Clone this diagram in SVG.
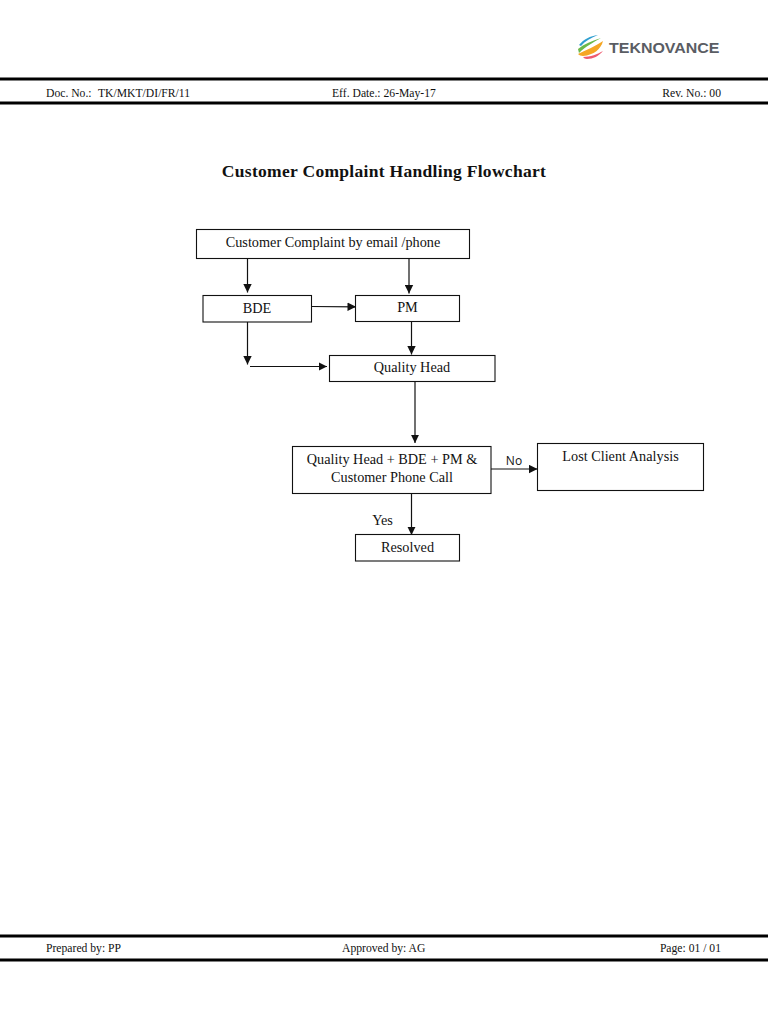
<svg xmlns="http://www.w3.org/2000/svg" width="768" height="1024" viewBox="0 0 768 1024">
<style>
text{font-family:"Liberation Serif","Times New Roman",serif;fill:#111}
.small{font-size:11.650px}
.label{font-size:14.250px;text-anchor:middle}
.box{fill:#fff;stroke:#111;stroke-width:1.1}
.rule{stroke:#000;stroke-width:3}
.conn{fill:none;stroke:#111;stroke-width:1.2;marker-end:url(#arrow)}
</style>
<defs>
<marker id="arrow" markerUnits="userSpaceOnUse" markerWidth="9" markerHeight="9" refX="8.5" refY="4.5" orient="auto">
<path d="M0 0.300L8.500 4.500L0 8.700Z" fill="#111"/>
</marker>
</defs>
<rect width="768" height="1024" fill="#fff"/>
<g id="logo">
<path d="M579 45C584 39 590 36 598 35C591 38 585 41 581 46Z" fill="#2f9fd0"/>
<path d="M578 49C584 44 592 41 601 38C594 42 586 46 579 53Z" fill="#6cb84a"/>
<path d="M578 54C586 50 596 46 603 41C601 49 594 55 583 56C581 56 579 55 578 54Z" fill="#f5a623"/>
<path d="M583 57C590 57 598 54 603 51C599 56 593 59 587 59C585 59 584 58 583 57Z" fill="#ee5a6f"/>
<text x="609" y="52.500" style="font-family:'Liberation Sans',Arial,sans-serif;font-size:15.500px;font-weight:700;fill:#5a5d64" textLength="110.500" lengthAdjust="spacingAndGlyphs">TEKNOVANCE</text>
</g>
<g id="header">
<line class="rule" x1="0" y1="79" x2="768" y2="79"/>
<line class="rule" x1="0" y1="103" x2="768" y2="103"/>
<text class="small" x="46" y="97">Doc. No.:<tspan x="98">TK/MKT/DI/FR/11</tspan></text>
<text class="small" x="332" y="97">Eff. Date.: 26-May-17</text>
<text class="small" x="721" y="97" text-anchor="end">Rev. No.: 00</text>
</g>
<text id="title" x="384" y="177" text-anchor="middle" style="font-size:17.500px;font-weight:700;letter-spacing:0.300px">Customer Complaint Handling Flowchart</text>
<g id="connectors">
<path class="conn" d="M247.500 259V292.500"/>
<path class="conn" d="M409 259V293.500"/>
<path class="conn" d="M312 306.500L356 306.800"/>
<path class="conn" d="M411.500 322V354.500"/>
<path class="conn" d="M247.500 322V364.500"/>
<path class="conn" d="M250 366.500H327"/>
<path class="conn" d="M415 382V443"/>
<path class="conn" d="M491 469H537.500"/>
</g>
<g id="n-complaint"><rect class="box" x="196.500" y="229.500" width="273" height="29"/><text class="label" x="333" y="247">Customer Complaint by email /phone</text></g>
<g id="n-bde"><rect class="box" x="203" y="295.500" width="108.500" height="26.500"/><text class="label" x="257" y="313">BDE</text></g>
<g id="n-pm"><rect class="box" x="355.500" y="295.500" width="104" height="26"/><text class="label" x="407.500" y="312">PM</text></g>
<g id="n-quality"><rect class="box" x="329.500" y="355.500" width="165.500" height="26"/><text class="label" x="412" y="372">Quality Head</text></g>
<g id="n-call"><rect class="box" x="292.500" y="446.500" width="198.500" height="47"/><text class="label" x="392" y="464">Quality Head + BDE + PM &amp;</text><text class="label" x="392" y="482">Customer Phone Call</text></g>
<g id="n-lost"><rect class="box" x="537.500" y="443.500" width="166" height="47"/><text class="label" x="620.500" y="461">Lost Client Analysis</text></g>
<g id="n-resolved"><rect class="box" x="355.500" y="534.500" width="104" height="26.500"/><text class="label" x="407.500" y="552">Resolved</text></g>
<g id="connectors-top"><path class="conn" d="M411.500 494V535"/></g>
<text x="514" y="465" text-anchor="middle" style="font-family:'Open Sans','DejaVu Sans',sans-serif;font-size:12px">No</text>
<text class="label" x="382.500" y="525">Yes</text>
<g id="footer">
<line class="rule" x1="0" y1="936" x2="768" y2="936"/>
<line class="rule" x1="0" y1="960" x2="768" y2="960"/>
<text class="small" x="46" y="952">Prepared by: PP</text>
<text class="small" x="342" y="952">Approved by: AG</text>
<text class="small" x="721" y="952" text-anchor="end">Page: 01 / 01</text>
</g>
</svg>
